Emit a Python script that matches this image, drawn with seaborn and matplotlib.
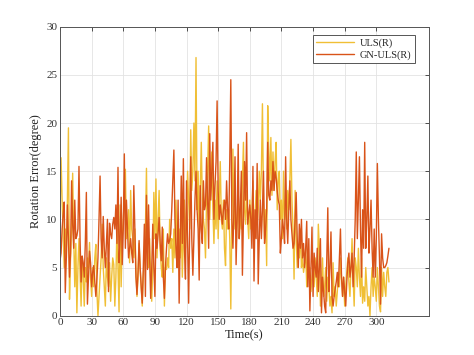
import numpy as np
import pandas as pd
import matplotlib
matplotlib.use("Agg")
import matplotlib.pyplot as plt
import seaborn as sns

# rotation error per second
uls_r = [
    10.0, 16.4, 12.0, 8.5, 5.0, 9.0, 6.0, 12.0, 19.5, 1.7,
    6.0, 9.0, 14.8, 8.0, 3.0, 7.5, 0.3, 5.0, 8.0, 4.5,
    1.0, 6.0, 4.0, 1.0, 5.0, 3.5, 6.0, 5.0, 7.6, 4.0,
    2.0, 5.0, 3.0, 6.0, 7.4, 2.5, 0.0, 2.0, 4.0, 6.0,
    9.5, 5.0, 3.0, 1.0, 6.0, 4.0, 3.0, 5.5, 1.5, 4.0,
    6.0, 5.3, 1.0, 4.0, 9.0, 5.0, 0.4, 11.5, 3.0, 8.0,
    10.0, 12.0, 15.2, 8.0, 9.0, 11.0, 5.5, 13.0, 9.0, 8.0,
    6.0, 9.0, 5.0, 2.0, 4.0, 7.5, 5.0, 3.0, 1.0, 4.0,
    6.0, 9.0, 15.3, 6.0, 5.0, 8.0, 4.0, 1.5, 5.0, 12.8,
    8.0, 14.2, 6.0, 10.0, 13.0, 7.0, 5.0, 4.0, 9.0, 1.0,
    5.0, 4.8, 6.0, 5.0, 10.0, 7.0, 8.0, 4.5, 9.0, 6.0,
    12.0, 8.0, 5.0, 9.0, 6.0, 10.0, 4.0, 8.0, 12.0, 7.0,
    11.0, 15.0, 12.0, 9.0, 19.3, 13.0, 15.0, 20.0, 14.0, 26.8,
    11.0, 15.0, 8.0, 13.0, 18.0, 12.0, 10.0, 9.0, 6.0, 12.0,
    15.0, 19.7, 10.0, 14.0, 17.0, 11.0, 7.5, 12.0, 9.0, 14.0,
    8.0, 12.0, 16.0, 10.0, 9.0, 12.0, 7.0, 5.2, 11.0, 9.0,
    11.0, 8.0, 0.7, 10.0, 17.3, 9.0, 12.0, 7.0, 10.0, 13.0,
    8.0, 11.0, 9.0, 14.0, 18.0, 11.0, 9.5, 13.0, 10.0, 8.0,
    12.0, 9.0, 11.0, 14.0, 8.0, 10.0, 13.0, 9.5, 11.0, 15.0,
    12.0, 15.0, 22.0, 12.0, 8.0, 11.0, 5.2, 21.8, 17.0, 14.0,
    18.5, 12.5, 17.0, 13.0, 16.0, 18.0, 11.0, 14.0, 15.0, 10.0,
    12.0, 8.0, 15.0, 10.0, 12.0, 9.0, 13.0, 11.0, 14.0, 18.3,
    12.0, 9.0, 3.8, 13.0, 8.0, 5.0, 7.0, 6.0, 9.0, 5.0,
    6.0, 4.5, 5.5, 7.0, 3.0, 6.6, 4.0, 5.0, 2.5, 4.0,
    5.0, 3.0, 6.0, 4.0, 2.0, 9.5, 7.0, 1.0, 3.0, 6.0,
    2.0, 3.0, 5.0, 1.5, 4.0, 3.0, 1.0, 2.0, 0.3, 5.5,
    2.0, 3.0, 1.0, 2.5, 4.5, 3.0, 6.0, 4.0, 2.0, 4.0,
    1.0, 3.0, 4.5, 6.0, 3.5, 2.0, 5.0, 8.0, 4.0, 1.0,
    6.0, 5.0, 3.0, 7.0, 4.0, 2.0, 6.0, 1.3, 3.0, 1.5,
    5.0, 3.0, 1.0, 2.0, 0.0, 3.0, 5.0, 2.0, 4.0, 3.0,
    1.5, 5.0, 3.0, 1.0, 0.4, 5.0, 2.0, 4.5, 3.0, 2.0,
    4.5, 5.0, 3.5,
]

gn_uls_r = [
    5.7, 6.5, 9.0, 10.5, 11.8, 2.4, 6.0, 11.5, 8.0, 4.0,
    6.5, 14.0, 9.5, 7.0, 12.0, 8.0, 8.3, 9.0, 15.5, 8.0,
    3.5, 6.2, 5.5, 4.0, 7.5, 12.8, 1.2, 4.0, 6.7, 5.5,
    3.0, 4.5, 5.2, 3.5, 2.0, 3.8, 6.0, 10.0, 14.5, 8.0,
    6.0, 10.3, 7.0, 5.0, 7.5, 10.0, 2.5, 9.6, 8.5, 8.0,
    9.5, 10.2, 9.0, 11.5, 7.5, 15.4, 5.5, 8.0, 12.3, 5.3,
    9.0, 16.8, 7.0, 12.0, 9.0, 6.0, 7.0, 8.0, 6.5, 5.5,
    13.5, 9.0, 4.0, 2.2, 4.5, 7.8, 5.0, 3.0, 1.3, 5.0,
    9.5, 2.0, 12.5, 4.8, 11.5, 6.0, 1.8, 5.0, 9.5, 5.0,
    2.0, 8.5, 7.0, 8.5, 10.2, 7.5, 5.7, 9.2, 4.0, 1.8,
    5.0, 7.0, 8.5, 7.5, 7.8, 8.5, 11.0, 14.0, 17.2, 10.0,
    7.0, 5.0, 12.0, 1.3, 8.0, 14.5, 7.5, 16.3, 7.0, 3.8,
    14.0, 8.0, 1.3, 9.0, 16.5, 8.0, 4.2, 8.0, 12.0, 15.0,
    11.0, 9.0, 3.7, 13.5, 9.0, 7.5, 14.0, 11.0, 11.5, 16.4,
    12.0, 7.0, 18.9, 12.0, 15.0, 18.0, 10.0, 13.5, 16.0, 22.3,
    13.0, 10.0, 11.5, 10.5, 9.5, 11.0, 12.0, 10.0, 14.0, 11.0,
    9.0, 16.0, 24.5, 10.0, 7.0, 11.0, 16.5, 5.3, 10.0, 17.8,
    8.0, 11.0, 15.0, 4.2, 10.0, 16.0, 12.0, 19.0, 9.5, 10.5,
    11.5, 10.0, 7.0, 15.5, 3.6, 11.0, 8.0, 15.8, 3.3, 8.0,
    12.0, 8.0, 11.0, 15.0, 7.5, 9.0, 11.0, 18.0, 12.5, 12.0,
    14.0, 13.0, 16.0, 13.0, 15.0, 14.3, 13.0, 12.0, 11.5, 6.5,
    8.0, 10.0, 9.0, 7.5, 16.5, 10.0, 7.5, 11.0, 14.0, 10.0,
    8.5, 7.0, 7.5, 10.0, 12.8, 8.0, 5.0, 9.5, 7.0, 10.0,
    6.0, 7.5, 5.0, 7.0, 9.8, 3.0, 8.0, 0.5, 5.0, 9.2,
    2.0, 6.5, 5.0, 4.0, 7.0, 2.5, 5.0, 8.0, 0.3, 4.0,
    2.5, 1.0, 0.3, 6.0, 11.2, 2.5, 5.0, 8.7, 2.0, 1.0,
    2.0, 2.8, 3.5, 4.5, 3.0, 6.0, 9.0, 4.0, 2.0, 4.0,
    2.5, 1.0, 3.5, 5.5, 6.5, 4.0, 5.0, 6.5, 3.0, 6.0,
    10.0, 17.0, 8.0, 12.0, 16.5, 9.0, 4.0, 11.0, 7.0, 18.0,
    7.0, 10.0, 14.5, 6.5, 9.0, 12.0, 7.0, 4.0, 9.0, 4.0,
    8.0, 15.8, 10.0, 6.0, 1.2, 8.5, 6.0, 5.0, 5.0, 5.2,
    5.5, 6.2, 7.0,
]

series_names = ["ULS(R)", "GN-ULS(R)"]
series_colors = ["#F0BF35", "#D95319"]
x_ticks = [0, 30, 60, 90, 120, 150, 180, 210, 240, 270, 300]
y_ticks = [0, 5, 10, 15, 20, 25, 30]

time = np.arange(len(uls_r))
df = pd.DataFrame({
    "Time": np.concatenate([time, time]),
    "Error": np.concatenate([uls_r, gn_uls_r]),
    "Method": [series_names[0]] * len(uls_r) + [series_names[1]] * len(gn_uls_r),
})

sns.set_style("whitegrid")
plt.rcParams["font.family"] = ["Liberation Serif", "DejaVu Serif"]

fig = plt.figure(figsize=(4.74, 3.55), dpi=100)
ax = fig.add_axes([0.1266, 0.1107, 0.7785, 0.814])

sns.lineplot(data=df, x="Time", y="Error", hue="Method", hue_order=series_names,
             palette=dict(zip(series_names, series_colors)), linewidth=1.0, ax=ax)

ax.set_xlim(0, 350)
ax.set_ylim(0, 30)
ax.set_xticks(x_ticks)
ax.set_yticks(y_ticks)
ax.tick_params(labelsize=8, colors="#333333", direction="in", length=3, width=0.6,
               top=True, right=True, pad=2)
ax.grid(True, color="#e3e3e3", linewidth=0.6)
for s in ax.spines.values():
    s.set_color("#555555")
    s.set_linewidth(0.7)

ax.set_xlabel("Time(s)", fontsize=9, color="#222222", labelpad=1)
ax.set_ylabel("Rotation Error(degree)", fontsize=9, color="#222222", labelpad=3)

leg = ax.legend(loc="upper right", bbox_to_anchor=(0.975, 0.988), fontsize=7.5,
                frameon=True, fancybox=False, framealpha=1, edgecolor="#555555",
                handlelength=3.6, borderpad=0.3, labelspacing=0.2, handletextpad=0.6)
leg.get_frame().set_linewidth(0.7)

fig.savefig("out.png", dpi=100)
